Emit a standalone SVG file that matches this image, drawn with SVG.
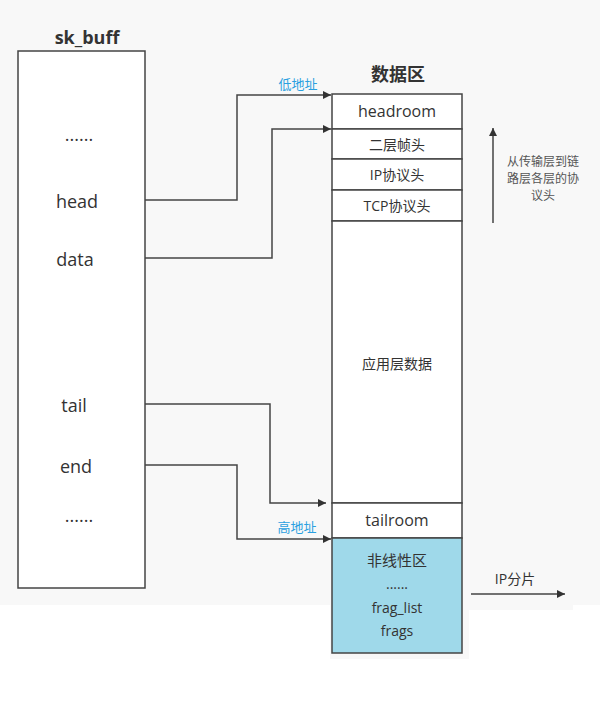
<svg xmlns="http://www.w3.org/2000/svg" width="600" height="708" viewBox="0 0 600 708">
<defs>
<marker id="arr" viewBox="0 0 10 10" refX="10" refY="5" markerWidth="10" markerHeight="8" markerUnits="userSpaceOnUse" orient="auto">
<path d="M0,0 L10,5 L0,10 z" fill="#333"/>
</marker>
<style>
.t{font-family:"Open Sans","Noto Sans CJK SC","Noto Sans",sans-serif;fill:#333;text-anchor:middle}
.b{font-weight:bold;font-size:18px}
.f{font-size:18px}
.r{font-size:14px}
.c{font-size:12px;fill:#555}
.lbl{font-size:13px;fill:#2aa0e0}
.box{fill:#fff;stroke:#444;stroke-width:1.5}
.ln{fill:none;stroke:#444;stroke-width:1.5}
</style>
</defs>
<rect x="0" y="0" width="600" height="605" fill="#f8f8f8"/>
<rect x="330" y="600" width="139" height="59" fill="#f8f8f8"/>
<rect x="469" y="600" width="104" height="10" fill="#f8f8f8"/>

<g id="sk_buff">
<text class="t b" x="87" y="44">sk_buff</text>
<rect class="box" x="18" y="51" width="127" height="537"/>
<text class="t f" x="79" y="141">......</text>
<text class="t f" x="77" y="208">head</text>
<text class="t f" x="75" y="266">data</text>
<text class="t f" x="74" y="412">tail</text>
<text class="t f" x="76" y="473">end</text>
<text class="t f" x="79" y="522">......</text>
</g>

<g id="data_area">
<text class="t b" x="398" y="81">数据区</text>
<rect class="box" x="332" y="94" width="130" height="35"/>
<text class="t r" x="397" y="117" style="font-size:16px">headroom</text>
<rect class="box" x="332" y="129" width="130" height="30"/>
<text class="t r" x="397" y="150">二层帧头</text>
<rect class="box" x="332" y="159" width="130" height="31"/>
<text class="t r" x="397" y="180">IP协议头</text>
<rect class="box" x="332" y="190" width="130" height="31"/>
<text class="t r" x="397" y="211">TCP协议头</text>
<rect class="box" x="332" y="221" width="130" height="282"/>
<text class="t r" x="397" y="369">应用层数据</text>
<rect class="box" x="332" y="503" width="130" height="35"/>
<text class="t r" x="397" y="526" style="font-size:16px">tailroom</text>
<rect class="box" x="332" y="538" width="130" height="115" style="fill:#9fd9ea"/>
<text class="t r" x="397" y="566" style="font-size:15px">非线性区</text>
<text class="t r" x="397" y="589">......</text>
<text class="t r" x="397" y="613">frag_list</text>
<text class="t r" x="397" y="636">frags</text>
</g>

<g id="connectors">
<path class="ln" d="M145,200 H237 V95 H331" marker-end="url(#arr)"/>
<path class="ln" d="M145,258 H272 V129 H331" marker-end="url(#arr)"/>
<path class="ln" d="M145,404 H270 V503 H326" marker-end="url(#arr)"/>
<path class="ln" d="M145,465 H237 V539 H331" marker-end="url(#arr)"/>
<path class="ln" d="M493,223 V128" marker-end="url(#arr)"/>
<path class="ln" d="M471,594 H565" marker-end="url(#arr)"/>
</g>

<g id="labels">
<text class="t lbl" x="298" y="89">低地址</text>
<text class="t lbl" x="297" y="532">高地址</text>
<text class="t c" x="543" y="166">从传输层到链</text>
<text class="t c" x="543" y="183">路层各层的协</text>
<text class="t c" x="543" y="200">议头</text>
<text class="t r" x="515" y="584">IP分片</text>
</g>
</svg>
